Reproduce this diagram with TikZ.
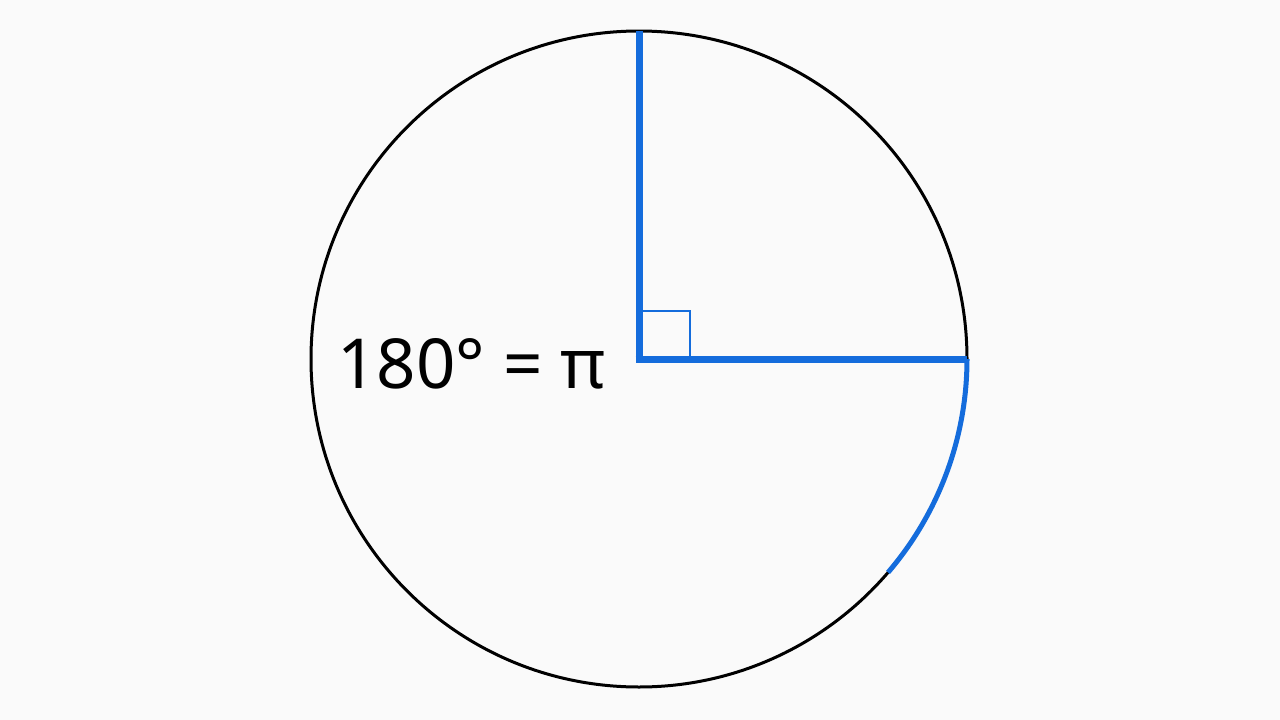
\documentclass[tikz,border=0pt]{standalone}
\usepackage{fontspec}
\setmainfont{Noto Sans}
\definecolor{bg}{HTML}{FAFAFA}
\definecolor{blu}{HTML}{146CDC}
\tikzset{
  circ/.style={draw=black, line width=3pt},
  ray/.style={draw=blu, line width=7pt},
  arcline/.style={draw=blu, line width=5pt},
  rightmark/.style={draw=blu, line width=2pt},
  lbl/.style={font=\fontsize{69}{72}\selectfont, inner sep=0pt}
}
\begin{document}
\begin{tikzpicture}[x=1pt,y=-1pt]
\fill[bg] (0,0) rectangle (1280,720);
\useasboundingbox (0,0) rectangle (1280,720);
\coordinate (O) at (639,359);
\coordinate (T) at (639,31);
\coordinate (R) at (967,359);
\draw[circ] (O) circle[radius=328];
\draw[arcline] (R) arc[start angle=0, end angle=40.6, radius=328];
\draw[rightmark] (639,311) rectangle (690,359);
\draw[ray, line cap=butt] (T) -- (O);
\draw[ray] ([xshift=-3.5pt]O) -- (R);
\node[lbl, anchor=base east] (L) at (606,388) {180° = π};
\end{tikzpicture}
\end{document}
